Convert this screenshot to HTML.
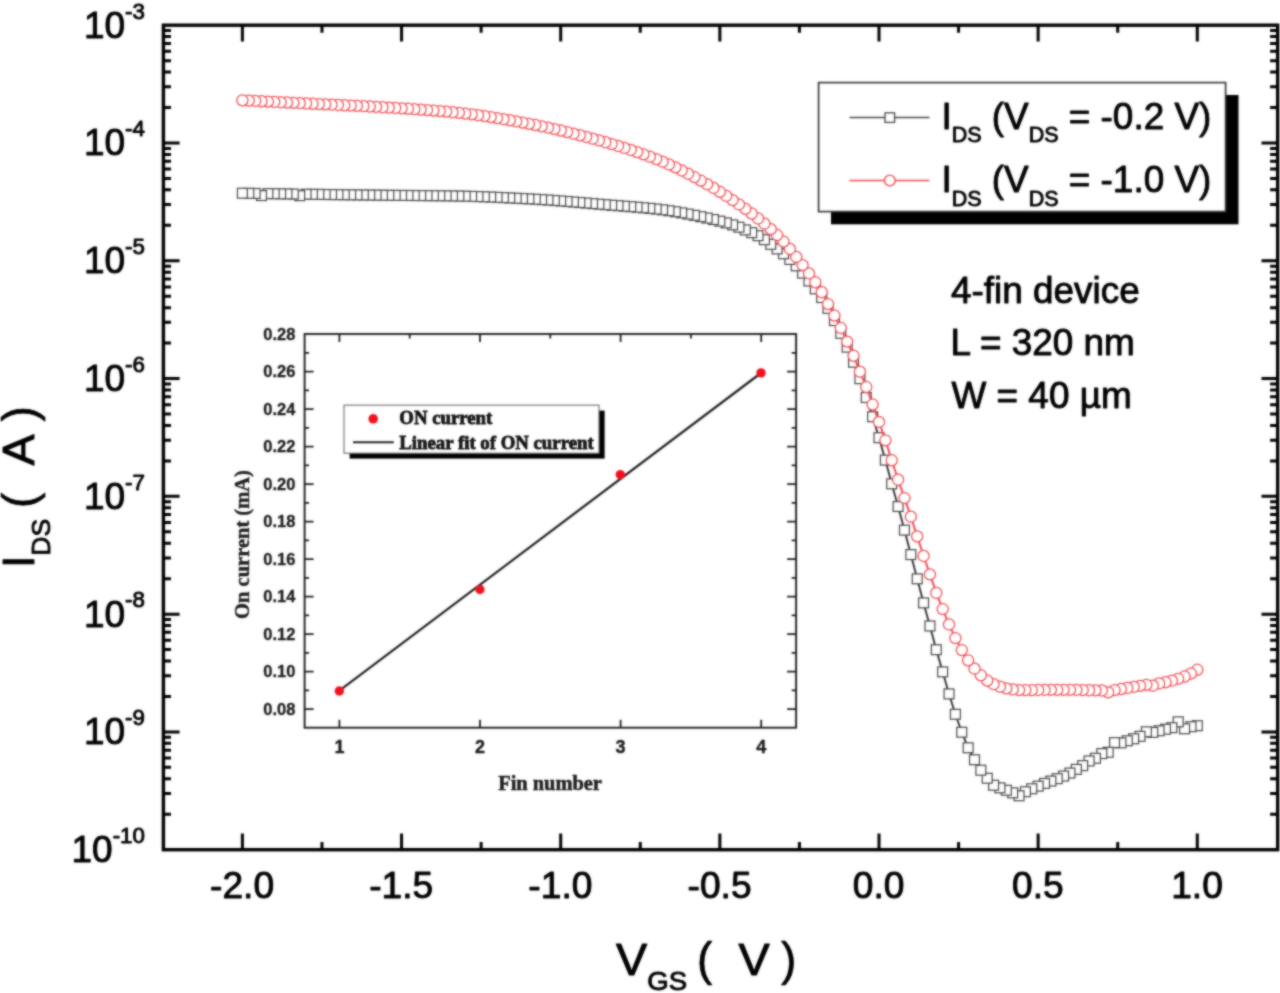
<!DOCTYPE html>
<html lang="en"><head><meta charset="utf-8">
<title>IDS - VGS transfer characteristics</title>
<style>html,body{margin:0;padding:0;background:#fff;}body{width:1280px;height:993px;overflow:hidden;}svg{display:block;}</style>
</head><body>
<svg width="1280" height="993" viewBox="0 0 1280 993">
<defs><filter id="soft" x="0" y="0" width="100%" height="100%" filterUnits="objectBoundingBox" color-interpolation-filters="sRGB"><feGaussianBlur in="SourceGraphic" stdDeviation="0.8" result="b"/><feComposite in="SourceGraphic" in2="b" operator="arithmetic" k1="0" k2="0.3" k3="0.7" k4="0"/></filter></defs>
<rect width="1280" height="993" fill="#fff"/>
<g filter="url(#soft)">
<rect width="1280" height="993" fill="#fff"/>
<rect x="163.4" y="25.2" width="1114.3" height="824.5" fill="none" stroke="#000" stroke-width="3.4"/>
<path d="M242.4 25.2V41.4 M242.4 849.7V833.5 M401.55 25.2V41.4 M401.55 849.7V833.5 M560.7 25.2V41.4 M560.7 849.7V833.5 M719.85 25.2V41.4 M719.85 849.7V833.5 M879 25.2V41.4 M879 849.7V833.5 M1038.15 25.2V41.4 M1038.15 849.7V833.5 M1197.3 25.2V41.4 M1197.3 849.7V833.5 M321.98 25.2V32.8 M321.98 849.7V842.1 M481.12 25.2V32.8 M481.12 849.7V842.1 M640.27 25.2V32.8 M640.27 849.7V842.1 M799.42 25.2V32.8 M799.42 849.7V842.1 M958.58 25.2V32.8 M958.58 849.7V842.1 M1117.73 25.2V32.8 M1117.73 849.7V842.1 M163.4 107.53H171 M1277.7 107.53H1270.1 M163.4 86.79H171 M1277.7 86.79H1270.1 M163.4 72.07H171 M1277.7 72.07H1270.1 M163.4 60.66H171 M1277.7 60.66H1270.1 M163.4 51.33H171 M1277.7 51.33H1270.1 M163.4 43.45H171 M1277.7 43.45H1270.1 M163.4 36.61H171 M1277.7 36.61H1270.1 M163.4 30.59H171 M1277.7 30.59H1270.1 M163.4 142.99H179.6 M1277.7 142.99H1261.5 M163.4 225.31H171 M1277.7 225.31H1270.1 M163.4 204.57H171 M1277.7 204.57H1270.1 M163.4 189.86H171 M1277.7 189.86H1270.1 M163.4 178.44H171 M1277.7 178.44H1270.1 M163.4 169.12H171 M1277.7 169.12H1270.1 M163.4 161.23H171 M1277.7 161.23H1270.1 M163.4 154.4H171 M1277.7 154.4H1270.1 M163.4 148.38H171 M1277.7 148.38H1270.1 M163.4 260.77H179.6 M1277.7 260.77H1261.5 M163.4 343.1H171 M1277.7 343.1H1270.1 M163.4 322.36H171 M1277.7 322.36H1270.1 M163.4 307.64H171 M1277.7 307.64H1270.1 M163.4 296.23H171 M1277.7 296.23H1270.1 M163.4 286.9H171 M1277.7 286.9H1270.1 M163.4 279.02H171 M1277.7 279.02H1270.1 M163.4 272.19H171 M1277.7 272.19H1270.1 M163.4 266.16H171 M1277.7 266.16H1270.1 M163.4 378.56H179.6 M1277.7 378.56H1261.5 M163.4 460.89H171 M1277.7 460.89H1270.1 M163.4 440.14H171 M1277.7 440.14H1270.1 M163.4 425.43H171 M1277.7 425.43H1270.1 M163.4 414.01H171 M1277.7 414.01H1270.1 M163.4 404.69H171 M1277.7 404.69H1270.1 M163.4 396.8H171 M1277.7 396.8H1270.1 M163.4 389.97H171 M1277.7 389.97H1270.1 M163.4 383.95H171 M1277.7 383.95H1270.1 M163.4 496.34H179.6 M1277.7 496.34H1261.5 M163.4 578.67H171 M1277.7 578.67H1270.1 M163.4 557.93H171 M1277.7 557.93H1270.1 M163.4 543.21H171 M1277.7 543.21H1270.1 M163.4 531.8H171 M1277.7 531.8H1270.1 M163.4 522.47H171 M1277.7 522.47H1270.1 M163.4 514.59H171 M1277.7 514.59H1270.1 M163.4 507.76H171 M1277.7 507.76H1270.1 M163.4 501.73H171 M1277.7 501.73H1270.1 M163.4 614.13H179.6 M1277.7 614.13H1261.5 M163.4 696.46H171 M1277.7 696.46H1270.1 M163.4 675.72H171 M1277.7 675.72H1270.1 M163.4 661H171 M1277.7 661H1270.1 M163.4 649.59H171 M1277.7 649.59H1270.1 M163.4 640.26H171 M1277.7 640.26H1270.1 M163.4 632.37H171 M1277.7 632.37H1270.1 M163.4 625.54H171 M1277.7 625.54H1270.1 M163.4 619.52H171 M1277.7 619.52H1270.1 M163.4 731.91H179.6 M1277.7 731.91H1261.5 M163.4 814.24H171 M1277.7 814.24H1270.1 M163.4 793.5H171 M1277.7 793.5H1270.1 M163.4 778.79H171 M1277.7 778.79H1270.1 M163.4 767.37H171 M1277.7 767.37H1270.1 M163.4 758.04H171 M1277.7 758.04H1270.1 M163.4 750.16H171 M1277.7 750.16H1270.1 M163.4 743.33H171 M1277.7 743.33H1270.1 M163.4 737.3H171 M1277.7 737.3H1270.1" stroke="#000" stroke-width="3.0" fill="none"/>
<text transform="translate(144.9,37.7)" font-family='"Liberation Sans", Arial, Helvetica, sans-serif' font-size="37" font-weight="normal" text-anchor="end" fill="#000" stroke="#000" stroke-width="0.9" stroke-linejoin="round">10<tspan font-size="22.3" dy="-19.2">-3</tspan></text>
<text transform="translate(144.9,155.49)" font-family='"Liberation Sans", Arial, Helvetica, sans-serif' font-size="37" font-weight="normal" text-anchor="end" fill="#000" stroke="#000" stroke-width="0.9" stroke-linejoin="round">10<tspan font-size="22.3" dy="-19.2">-4</tspan></text>
<text transform="translate(144.9,273.27)" font-family='"Liberation Sans", Arial, Helvetica, sans-serif' font-size="37" font-weight="normal" text-anchor="end" fill="#000" stroke="#000" stroke-width="0.9" stroke-linejoin="round">10<tspan font-size="22.3" dy="-19.2">-5</tspan></text>
<text transform="translate(144.9,391.06)" font-family='"Liberation Sans", Arial, Helvetica, sans-serif' font-size="37" font-weight="normal" text-anchor="end" fill="#000" stroke="#000" stroke-width="0.9" stroke-linejoin="round">10<tspan font-size="22.3" dy="-19.2">-6</tspan></text>
<text transform="translate(144.9,508.84)" font-family='"Liberation Sans", Arial, Helvetica, sans-serif' font-size="37" font-weight="normal" text-anchor="end" fill="#000" stroke="#000" stroke-width="0.9" stroke-linejoin="round">10<tspan font-size="22.3" dy="-19.2">-7</tspan></text>
<text transform="translate(144.9,626.63)" font-family='"Liberation Sans", Arial, Helvetica, sans-serif' font-size="37" font-weight="normal" text-anchor="end" fill="#000" stroke="#000" stroke-width="0.9" stroke-linejoin="round">10<tspan font-size="22.3" dy="-19.2">-8</tspan></text>
<text transform="translate(144.9,744.41)" font-family='"Liberation Sans", Arial, Helvetica, sans-serif' font-size="37" font-weight="normal" text-anchor="end" fill="#000" stroke="#000" stroke-width="0.9" stroke-linejoin="round">10<tspan font-size="22.3" dy="-19.2">-9</tspan></text>
<text transform="translate(144.9,862.2)" font-family='"Liberation Sans", Arial, Helvetica, sans-serif' font-size="37" font-weight="normal" text-anchor="end" fill="#000" stroke="#000" stroke-width="0.9" stroke-linejoin="round">10<tspan font-size="22.3" dy="-19.2">-10</tspan></text>
<text transform="translate(242.1,897.8)" font-family='"Liberation Sans", Arial, Helvetica, sans-serif' font-size="37.2" font-weight="normal" text-anchor="middle" fill="#000" stroke="#000" stroke-width="0.9" stroke-linejoin="round">-2.0</text>
<text transform="translate(401.25,897.8)" font-family='"Liberation Sans", Arial, Helvetica, sans-serif' font-size="37.2" font-weight="normal" text-anchor="middle" fill="#000" stroke="#000" stroke-width="0.9" stroke-linejoin="round">-1.5</text>
<text transform="translate(560.4,897.8)" font-family='"Liberation Sans", Arial, Helvetica, sans-serif' font-size="37.2" font-weight="normal" text-anchor="middle" fill="#000" stroke="#000" stroke-width="0.9" stroke-linejoin="round">-1.0</text>
<text transform="translate(719.55,897.8)" font-family='"Liberation Sans", Arial, Helvetica, sans-serif' font-size="37.2" font-weight="normal" text-anchor="middle" fill="#000" stroke="#000" stroke-width="0.9" stroke-linejoin="round">-0.5</text>
<text transform="translate(878.7,897.8)" font-family='"Liberation Sans", Arial, Helvetica, sans-serif' font-size="37.2" font-weight="normal" text-anchor="middle" fill="#000" stroke="#000" stroke-width="0.9" stroke-linejoin="round">0.0</text>
<text transform="translate(1037.85,897.8)" font-family='"Liberation Sans", Arial, Helvetica, sans-serif' font-size="37.2" font-weight="normal" text-anchor="middle" fill="#000" stroke="#000" stroke-width="0.9" stroke-linejoin="round">0.5</text>
<text transform="translate(1197,897.8)" font-family='"Liberation Sans", Arial, Helvetica, sans-serif' font-size="37.2" font-weight="normal" text-anchor="middle" fill="#000" stroke="#000" stroke-width="0.9" stroke-linejoin="round">1.0</text>
<text transform="translate(616,975.2) scale(1.040,1.000)" font-family='"Liberation Sans", Arial, Helvetica, sans-serif' font-size="45" font-weight="normal" text-anchor="start" fill="#000" stroke="#000" stroke-width="0.9" stroke-linejoin="round">V<tspan font-size="26.5" dy="14.8">GS</tspan></text>
<text transform="translate(697,974.6)" font-family='"Liberation Sans", Arial, Helvetica, sans-serif' font-size="46" font-weight="normal" text-anchor="start" fill="#000" stroke="#000" stroke-width="0.7" stroke-linejoin="round">(</text>
<text transform="translate(738.5,975.2) scale(1.040,1.000)" font-family='"Liberation Sans", Arial, Helvetica, sans-serif' font-size="45" font-weight="normal" text-anchor="start" fill="#000" stroke="#000" stroke-width="0.9" stroke-linejoin="round">V</text>
<text transform="translate(781,974.6)" font-family='"Liberation Sans", Arial, Helvetica, sans-serif' font-size="46" font-weight="normal" text-anchor="start" fill="#000" stroke="#000" stroke-width="0.7" stroke-linejoin="round">)</text>
<text transform="translate(34,568) rotate(-90)" font-family='"Liberation Sans", Arial, Helvetica, sans-serif' font-size="44.5" font-weight="normal" text-anchor="start" fill="#000" stroke="#000" stroke-width="0.9" stroke-linejoin="round">I<tspan font-size="26.5" dy="16.4">DS</tspan></text>
<text transform="translate(35,508) rotate(-90)" font-family='"Liberation Sans", Arial, Helvetica, sans-serif' font-size="46" font-weight="normal" text-anchor="start" fill="#000" stroke="#000" stroke-width="0.7" stroke-linejoin="round">(</text>
<text transform="translate(34.3,465.5) rotate(-90) scale(1.050,1.000)" font-family='"Liberation Sans", Arial, Helvetica, sans-serif' font-size="44.5" font-weight="normal" text-anchor="start" fill="#000" stroke="#000" stroke-width="0.9" stroke-linejoin="round">A</text>
<text transform="translate(35,421.5) rotate(-90)" font-family='"Liberation Sans", Arial, Helvetica, sans-serif' font-size="46" font-weight="normal" text-anchor="start" fill="#000" stroke="#000" stroke-width="0.7" stroke-linejoin="round">)</text>
<polyline fill="none" stroke="#333" stroke-width="1.9" points="242.4,193.22 248.77,193.33 255.13,193.43 261.5,195.54 267.86,193.64 274.23,193.74 280.6,193.84 286.96,193.94 293.33,194.03 299.69,195.63 306.06,194.22 312.43,194.31 318.79,194.4 325.16,194.49 331.52,194.58 337.89,194.66 344.26,194.75 350.62,194.83 356.99,194.91 363.35,195 369.72,195.07 376.09,195.15 382.45,195.23 388.82,195.3 395.18,195.36 401.55,195.42 407.92,195.47 414.28,195.53 420.65,195.58 427.01,195.64 433.38,195.7 439.75,195.78 446.11,195.86 452.48,195.95 458.84,196.06 465.21,196.2 471.58,196.38 477.94,196.58 484.31,196.81 490.67,197.06 497.04,197.33 503.41,197.62 509.77,197.92 516.14,198.23 522.5,198.56 528.87,198.89 535.24,199.23 541.6,199.62 547.97,200.04 554.33,200.49 560.7,200.97 567.07,201.48 573.43,202 579.8,202.53 586.16,203.07 592.53,203.62 598.9,204.16 605.26,204.69 611.63,205.21 617.99,205.7 624.36,206.19 630.73,206.7 637.09,207.22 643.46,207.78 649.82,208.39 656.19,209.06 662.56,209.82 668.92,210.71 675.29,211.74 681.65,212.87 688.02,214.09 694.39,215.37 700.75,216.7 707.12,218.08 713.48,219.56 719.85,221.16 726.22,222.92 732.58,224.87 738.95,227.2 745.31,229.91 751.68,232.63 758.05,235.68 764.41,239.69 770.78,244.34 777.14,248.9 783.51,253.79 789.88,259.45 796.24,265.83 802.61,273.09 808.97,280.97 815.34,288.85 821.71,297.55 828.07,308.36 834.44,320.57 840.8,333.33 847.17,347.13 853.54,362.21 859.9,378.73 866.27,397.5 872.63,416.74 879,437.68 885.37,460.1 891.73,483.84 898.1,506.52 904.46,530.12 910.83,554.58 917.2,578.84 923.56,602.9 929.93,625.97 936.29,649.7 942.66,671.86 949.03,693.92 955.39,714.28 961.76,732.21 968.12,747.76 974.49,759.76 980.86,770.22 987.22,778.25 993.59,785.25 999.95,787.86 1006.32,790.25 1012.69,792.84 1019.05,795.77 1025.42,791.74 1031.78,788.77 1038.15,786.18 1044.52,783.46 1050.88,781.07 1057.25,778.68 1063.61,776.05 1069.98,773.05 1076.35,769.37 1082.71,765.62 1089.08,760.97 1095.44,758.27 1101.81,753.58 1108.18,752.28 1114.54,742.6 1120.91,742.86 1127.27,740.78 1133.64,738.78 1140.01,736.32 1146.37,731.81 1152.74,732.39 1159.1,730.77 1165.47,729.18 1171.84,727.67 1178.2,721.81 1184.57,728.78 1190.93,726.69 1197.3,725.7"/>
<g fill="#fff" stroke="#454545" stroke-width="1.2"><rect x="1192.35" y="720.75" width="9.9" height="9.9"/><rect x="1185.98" y="721.74" width="9.9" height="9.9"/><rect x="1179.62" y="723.83" width="9.9" height="9.9"/><rect x="1173.25" y="716.86" width="9.9" height="9.9"/><rect x="1166.89" y="722.72" width="9.9" height="9.9"/><rect x="1160.52" y="724.23" width="9.9" height="9.9"/><rect x="1154.15" y="725.82" width="9.9" height="9.9"/><rect x="1147.79" y="727.44" width="9.9" height="9.9"/><rect x="1141.42" y="726.86" width="9.9" height="9.9"/><rect x="1135.06" y="731.37" width="9.9" height="9.9"/><rect x="1128.69" y="733.83" width="9.9" height="9.9"/><rect x="1122.32" y="735.83" width="9.9" height="9.9"/><rect x="1115.96" y="737.91" width="9.9" height="9.9"/><rect x="1109.59" y="737.65" width="9.9" height="9.9"/><rect x="1103.23" y="747.33" width="9.9" height="9.9"/><rect x="1096.86" y="748.63" width="9.9" height="9.9"/><rect x="1090.49" y="753.32" width="9.9" height="9.9"/><rect x="1084.13" y="756.02" width="9.9" height="9.9"/><rect x="1077.76" y="760.67" width="9.9" height="9.9"/><rect x="1071.4" y="764.42" width="9.9" height="9.9"/><rect x="1065.03" y="768.1" width="9.9" height="9.9"/><rect x="1058.66" y="771.1" width="9.9" height="9.9"/><rect x="1052.3" y="773.73" width="9.9" height="9.9"/><rect x="1045.93" y="776.12" width="9.9" height="9.9"/><rect x="1039.57" y="778.51" width="9.9" height="9.9"/><rect x="1033.2" y="781.23" width="9.9" height="9.9"/><rect x="1026.83" y="783.82" width="9.9" height="9.9"/><rect x="1020.47" y="786.79" width="9.9" height="9.9"/><rect x="1014.1" y="790.82" width="9.9" height="9.9"/><rect x="1007.74" y="787.89" width="9.9" height="9.9"/><rect x="1001.37" y="785.3" width="9.9" height="9.9"/><rect x="995" y="782.91" width="9.9" height="9.9"/><rect x="988.64" y="780.3" width="9.9" height="9.9"/><rect x="982.27" y="773.3" width="9.9" height="9.9"/><rect x="975.91" y="765.27" width="9.9" height="9.9"/><rect x="969.54" y="754.81" width="9.9" height="9.9"/><rect x="963.17" y="742.81" width="9.9" height="9.9"/><rect x="956.81" y="727.26" width="9.9" height="9.9"/><rect x="950.44" y="709.33" width="9.9" height="9.9"/><rect x="944.08" y="688.97" width="9.9" height="9.9"/><rect x="937.71" y="666.91" width="9.9" height="9.9"/><rect x="931.34" y="644.75" width="9.9" height="9.9"/><rect x="924.98" y="621.02" width="9.9" height="9.9"/><rect x="918.61" y="597.95" width="9.9" height="9.9"/><rect x="912.25" y="573.89" width="9.9" height="9.9"/><rect x="905.88" y="549.63" width="9.9" height="9.9"/><rect x="899.51" y="525.17" width="9.9" height="9.9"/><rect x="893.15" y="501.57" width="9.9" height="9.9"/><rect x="886.78" y="478.89" width="9.9" height="9.9"/><rect x="880.42" y="455.15" width="9.9" height="9.9"/><rect x="874.05" y="432.73" width="9.9" height="9.9"/><rect x="867.68" y="411.79" width="9.9" height="9.9"/><rect x="861.32" y="392.55" width="9.9" height="9.9"/><rect x="854.95" y="373.78" width="9.9" height="9.9"/><rect x="848.59" y="357.26" width="9.9" height="9.9"/><rect x="842.22" y="342.18" width="9.9" height="9.9"/><rect x="835.85" y="328.38" width="9.9" height="9.9"/><rect x="829.49" y="315.62" width="9.9" height="9.9"/><rect x="823.12" y="303.41" width="9.9" height="9.9"/><rect x="816.76" y="292.6" width="9.9" height="9.9"/><rect x="810.39" y="283.9" width="9.9" height="9.9"/><rect x="804.02" y="276.02" width="9.9" height="9.9"/><rect x="797.66" y="268.14" width="9.9" height="9.9"/><rect x="791.29" y="260.88" width="9.9" height="9.9"/><rect x="784.93" y="254.5" width="9.9" height="9.9"/><rect x="778.56" y="248.84" width="9.9" height="9.9"/><rect x="772.19" y="243.95" width="9.9" height="9.9"/><rect x="765.83" y="239.39" width="9.9" height="9.9"/><rect x="759.46" y="234.74" width="9.9" height="9.9"/><rect x="753.1" y="230.73" width="9.9" height="9.9"/><rect x="746.73" y="227.68" width="9.9" height="9.9"/><rect x="740.36" y="224.96" width="9.9" height="9.9"/><rect x="734" y="222.25" width="9.9" height="9.9"/><rect x="727.63" y="219.92" width="9.9" height="9.9"/><rect x="721.27" y="217.97" width="9.9" height="9.9"/><rect x="714.9" y="216.21" width="9.9" height="9.9"/><rect x="708.53" y="214.61" width="9.9" height="9.9"/><rect x="702.17" y="213.13" width="9.9" height="9.9"/><rect x="695.8" y="211.75" width="9.9" height="9.9"/><rect x="689.44" y="210.42" width="9.9" height="9.9"/><rect x="683.07" y="209.14" width="9.9" height="9.9"/><rect x="676.7" y="207.92" width="9.9" height="9.9"/><rect x="670.34" y="206.79" width="9.9" height="9.9"/><rect x="663.97" y="205.76" width="9.9" height="9.9"/><rect x="657.61" y="204.87" width="9.9" height="9.9"/><rect x="651.24" y="204.11" width="9.9" height="9.9"/><rect x="644.87" y="203.44" width="9.9" height="9.9"/><rect x="638.51" y="202.83" width="9.9" height="9.9"/><rect x="632.14" y="202.27" width="9.9" height="9.9"/><rect x="625.78" y="201.75" width="9.9" height="9.9"/><rect x="619.41" y="201.24" width="9.9" height="9.9"/><rect x="613.04" y="200.75" width="9.9" height="9.9"/><rect x="606.68" y="200.26" width="9.9" height="9.9"/><rect x="600.31" y="199.74" width="9.9" height="9.9"/><rect x="593.95" y="199.21" width="9.9" height="9.9"/><rect x="587.58" y="198.67" width="9.9" height="9.9"/><rect x="581.21" y="198.12" width="9.9" height="9.9"/><rect x="574.85" y="197.58" width="9.9" height="9.9"/><rect x="568.48" y="197.05" width="9.9" height="9.9"/><rect x="562.12" y="196.53" width="9.9" height="9.9"/><rect x="555.75" y="196.02" width="9.9" height="9.9"/><rect x="549.38" y="195.54" width="9.9" height="9.9"/><rect x="543.02" y="195.09" width="9.9" height="9.9"/><rect x="536.65" y="194.67" width="9.9" height="9.9"/><rect x="530.29" y="194.28" width="9.9" height="9.9"/><rect x="523.92" y="193.94" width="9.9" height="9.9"/><rect x="517.55" y="193.61" width="9.9" height="9.9"/><rect x="511.19" y="193.28" width="9.9" height="9.9"/><rect x="504.82" y="192.97" width="9.9" height="9.9"/><rect x="498.46" y="192.67" width="9.9" height="9.9"/><rect x="492.09" y="192.38" width="9.9" height="9.9"/><rect x="485.72" y="192.11" width="9.9" height="9.9"/><rect x="479.36" y="191.86" width="9.9" height="9.9"/><rect x="472.99" y="191.63" width="9.9" height="9.9"/><rect x="466.63" y="191.43" width="9.9" height="9.9"/><rect x="460.26" y="191.25" width="9.9" height="9.9"/><rect x="453.89" y="191.11" width="9.9" height="9.9"/><rect x="447.53" y="191" width="9.9" height="9.9"/><rect x="441.16" y="190.91" width="9.9" height="9.9"/><rect x="434.8" y="190.83" width="9.9" height="9.9"/><rect x="428.43" y="190.75" width="9.9" height="9.9"/><rect x="422.06" y="190.69" width="9.9" height="9.9"/><rect x="415.7" y="190.63" width="9.9" height="9.9"/><rect x="409.33" y="190.58" width="9.9" height="9.9"/><rect x="402.97" y="190.52" width="9.9" height="9.9"/><rect x="396.6" y="190.47" width="9.9" height="9.9"/><rect x="390.23" y="190.41" width="9.9" height="9.9"/><rect x="383.87" y="190.35" width="9.9" height="9.9"/><rect x="377.5" y="190.28" width="9.9" height="9.9"/><rect x="371.14" y="190.2" width="9.9" height="9.9"/><rect x="364.77" y="190.12" width="9.9" height="9.9"/><rect x="358.4" y="190.05" width="9.9" height="9.9"/><rect x="352.04" y="189.96" width="9.9" height="9.9"/><rect x="345.67" y="189.88" width="9.9" height="9.9"/><rect x="339.31" y="189.8" width="9.9" height="9.9"/><rect x="332.94" y="189.71" width="9.9" height="9.9"/><rect x="326.57" y="189.63" width="9.9" height="9.9"/><rect x="320.21" y="189.54" width="9.9" height="9.9"/><rect x="313.84" y="189.45" width="9.9" height="9.9"/><rect x="307.48" y="189.36" width="9.9" height="9.9"/><rect x="301.11" y="189.27" width="9.9" height="9.9"/><rect x="294.74" y="190.68" width="9.9" height="9.9"/><rect x="288.38" y="189.08" width="9.9" height="9.9"/><rect x="282.01" y="188.99" width="9.9" height="9.9"/><rect x="275.65" y="188.89" width="9.9" height="9.9"/><rect x="269.28" y="188.79" width="9.9" height="9.9"/><rect x="262.91" y="188.69" width="9.9" height="9.9"/><rect x="256.55" y="190.59" width="9.9" height="9.9"/><rect x="250.18" y="188.48" width="9.9" height="9.9"/><rect x="243.82" y="188.38" width="9.9" height="9.9"/><rect x="237.45" y="188.27" width="9.9" height="9.9"/></g>
<polyline fill="none" stroke="#f2444a" stroke-width="1.9" points="242.4,100.31 248.77,100.63 255.13,100.95 261.5,101.27 267.86,101.58 274.23,101.9 280.6,102.22 286.96,102.53 293.33,102.85 299.69,103.16 306.06,103.48 312.43,103.79 318.79,104.1 325.16,104.39 331.52,104.69 337.89,104.98 344.26,105.27 350.62,105.57 356.99,105.88 363.35,106.2 369.72,106.53 376.09,106.88 382.45,107.24 388.82,107.61 395.18,107.99 401.55,108.38 407.92,108.78 414.28,109.19 420.65,109.62 427.01,110.08 433.38,110.56 439.75,111.08 446.11,111.63 452.48,112.21 458.84,112.84 465.21,113.55 471.58,114.33 477.94,115.18 484.31,116.1 490.67,117.08 497.04,118.1 503.41,119.18 509.77,120.29 516.14,121.43 522.5,122.6 528.87,123.8 535.24,125.02 541.6,126.3 547.97,127.65 554.33,129.07 560.7,130.54 567.07,132.07 573.43,133.65 579.8,135.28 586.16,136.95 592.53,138.67 598.9,140.43 605.26,142.22 611.63,144.05 617.99,145.95 624.36,147.92 630.73,149.97 637.09,152.1 643.46,154.33 649.82,156.65 656.19,159.09 662.56,161.65 668.92,164.4 675.29,167.35 681.65,170.46 688.02,173.71 694.39,177.08 700.75,180.55 707.12,184.15 713.48,187.92 719.85,191.85 726.22,195.93 732.58,200.12 738.95,204.43 745.31,208.87 751.68,213.53 758.05,218.46 764.41,223.66 770.78,229.14 777.14,235.04 783.51,241.58 789.88,248.95 796.24,256.9 802.61,265.11 808.97,273.43 815.34,282.29 821.71,292.18 828.07,304.09 834.44,315.55 840.8,328 847.17,341.62 853.54,355.78 859.9,371.66 866.27,387.01 872.63,404.52 879,421.94 885.37,440.3 891.73,460.29 898.1,479.7 904.46,498.1 910.83,516.69 917.2,536.37 923.56,555.99 929.93,574.38 936.29,592.93 942.66,609.05 949.03,624.49 955.39,638.08 961.76,650.1 968.12,660.33 974.49,668.67 980.86,675.28 987.22,680.54 993.59,684.17 999.95,686.7 1006.32,688.37 1012.69,689.4 1019.05,690.08 1025.42,690.09 1031.78,690.05 1038.15,689.99 1044.52,689.92 1050.88,689.86 1057.25,689.82 1063.61,689.8 1069.98,689.83 1076.35,689.93 1082.71,690.07 1089.08,690.22 1095.44,690.36 1101.81,690.46 1108.18,692.3 1114.54,690.05 1120.91,689.03 1127.27,687.99 1133.64,686.93 1140.01,685.82 1146.37,684.83 1152.74,685.73 1159.1,683.43 1165.47,682.28 1171.84,680.66 1178.2,678.8 1184.57,676.53 1190.93,673.52 1197.3,669.76"/>
<g fill="#fff" stroke="#f04a50" stroke-width="1.25"><circle cx="1197.3" cy="669.76" r="5.55"/><circle cx="1190.93" cy="673.52" r="5.55"/><circle cx="1184.57" cy="676.53" r="5.55"/><circle cx="1178.2" cy="678.8" r="5.55"/><circle cx="1171.84" cy="680.66" r="5.55"/><circle cx="1165.47" cy="682.28" r="5.55"/><circle cx="1159.1" cy="683.43" r="5.55"/><circle cx="1152.74" cy="685.73" r="5.55"/><circle cx="1146.37" cy="684.83" r="5.55"/><circle cx="1140.01" cy="685.82" r="5.55"/><circle cx="1133.64" cy="686.93" r="5.55"/><circle cx="1127.27" cy="687.99" r="5.55"/><circle cx="1120.91" cy="689.03" r="5.55"/><circle cx="1114.54" cy="690.05" r="5.55"/><circle cx="1108.18" cy="692.3" r="5.55"/><circle cx="1101.81" cy="690.46" r="5.55"/><circle cx="1095.44" cy="690.36" r="5.55"/><circle cx="1089.08" cy="690.22" r="5.55"/><circle cx="1082.71" cy="690.07" r="5.55"/><circle cx="1076.35" cy="689.93" r="5.55"/><circle cx="1069.98" cy="689.83" r="5.55"/><circle cx="1063.61" cy="689.8" r="5.55"/><circle cx="1057.25" cy="689.82" r="5.55"/><circle cx="1050.88" cy="689.86" r="5.55"/><circle cx="1044.52" cy="689.92" r="5.55"/><circle cx="1038.15" cy="689.99" r="5.55"/><circle cx="1031.78" cy="690.05" r="5.55"/><circle cx="1025.42" cy="690.09" r="5.55"/><circle cx="1019.05" cy="690.08" r="5.55"/><circle cx="1012.69" cy="689.4" r="5.55"/><circle cx="1006.32" cy="688.37" r="5.55"/><circle cx="999.95" cy="686.7" r="5.55"/><circle cx="993.59" cy="684.17" r="5.55"/><circle cx="987.22" cy="680.54" r="5.55"/><circle cx="980.86" cy="675.28" r="5.55"/><circle cx="974.49" cy="668.67" r="5.55"/><circle cx="968.12" cy="660.33" r="5.55"/><circle cx="961.76" cy="650.1" r="5.55"/><circle cx="955.39" cy="638.08" r="5.55"/><circle cx="949.03" cy="624.49" r="5.55"/><circle cx="942.66" cy="609.05" r="5.55"/><circle cx="936.29" cy="592.93" r="5.55"/><circle cx="929.93" cy="574.38" r="5.55"/><circle cx="923.56" cy="555.99" r="5.55"/><circle cx="917.2" cy="536.37" r="5.55"/><circle cx="910.83" cy="516.69" r="5.55"/><circle cx="904.46" cy="498.1" r="5.55"/><circle cx="898.1" cy="479.7" r="5.55"/><circle cx="891.73" cy="460.29" r="5.55"/><circle cx="885.37" cy="440.3" r="5.55"/><circle cx="879" cy="421.94" r="5.55"/><circle cx="872.63" cy="404.52" r="5.55"/><circle cx="866.27" cy="387.01" r="5.55"/><circle cx="859.9" cy="371.66" r="5.55"/><circle cx="853.54" cy="355.78" r="5.55"/><circle cx="847.17" cy="341.62" r="5.55"/><circle cx="840.8" cy="328" r="5.55"/><circle cx="834.44" cy="315.55" r="5.55"/><circle cx="828.07" cy="304.09" r="5.55"/><circle cx="821.71" cy="292.18" r="5.55"/><circle cx="815.34" cy="282.29" r="5.55"/><circle cx="808.97" cy="273.43" r="5.55"/><circle cx="802.61" cy="265.11" r="5.55"/><circle cx="796.24" cy="256.9" r="5.55"/><circle cx="789.88" cy="248.95" r="5.55"/><circle cx="783.51" cy="241.58" r="5.55"/><circle cx="777.14" cy="235.04" r="5.55"/><circle cx="770.78" cy="229.14" r="5.55"/><circle cx="764.41" cy="223.66" r="5.55"/><circle cx="758.05" cy="218.46" r="5.55"/><circle cx="751.68" cy="213.53" r="5.55"/><circle cx="745.31" cy="208.87" r="5.55"/><circle cx="738.95" cy="204.43" r="5.55"/><circle cx="732.58" cy="200.12" r="5.55"/><circle cx="726.22" cy="195.93" r="5.55"/><circle cx="719.85" cy="191.85" r="5.55"/><circle cx="713.48" cy="187.92" r="5.55"/><circle cx="707.12" cy="184.15" r="5.55"/><circle cx="700.75" cy="180.55" r="5.55"/><circle cx="694.39" cy="177.08" r="5.55"/><circle cx="688.02" cy="173.71" r="5.55"/><circle cx="681.65" cy="170.46" r="5.55"/><circle cx="675.29" cy="167.35" r="5.55"/><circle cx="668.92" cy="164.4" r="5.55"/><circle cx="662.56" cy="161.65" r="5.55"/><circle cx="656.19" cy="159.09" r="5.55"/><circle cx="649.82" cy="156.65" r="5.55"/><circle cx="643.46" cy="154.33" r="5.55"/><circle cx="637.09" cy="152.1" r="5.55"/><circle cx="630.73" cy="149.97" r="5.55"/><circle cx="624.36" cy="147.92" r="5.55"/><circle cx="617.99" cy="145.95" r="5.55"/><circle cx="611.63" cy="144.05" r="5.55"/><circle cx="605.26" cy="142.22" r="5.55"/><circle cx="598.9" cy="140.43" r="5.55"/><circle cx="592.53" cy="138.67" r="5.55"/><circle cx="586.16" cy="136.95" r="5.55"/><circle cx="579.8" cy="135.28" r="5.55"/><circle cx="573.43" cy="133.65" r="5.55"/><circle cx="567.07" cy="132.07" r="5.55"/><circle cx="560.7" cy="130.54" r="5.55"/><circle cx="554.33" cy="129.07" r="5.55"/><circle cx="547.97" cy="127.65" r="5.55"/><circle cx="541.6" cy="126.3" r="5.55"/><circle cx="535.24" cy="125.02" r="5.55"/><circle cx="528.87" cy="123.8" r="5.55"/><circle cx="522.5" cy="122.6" r="5.55"/><circle cx="516.14" cy="121.43" r="5.55"/><circle cx="509.77" cy="120.29" r="5.55"/><circle cx="503.41" cy="119.18" r="5.55"/><circle cx="497.04" cy="118.1" r="5.55"/><circle cx="490.67" cy="117.08" r="5.55"/><circle cx="484.31" cy="116.1" r="5.55"/><circle cx="477.94" cy="115.18" r="5.55"/><circle cx="471.58" cy="114.33" r="5.55"/><circle cx="465.21" cy="113.55" r="5.55"/><circle cx="458.84" cy="112.84" r="5.55"/><circle cx="452.48" cy="112.21" r="5.55"/><circle cx="446.11" cy="111.63" r="5.55"/><circle cx="439.75" cy="111.08" r="5.55"/><circle cx="433.38" cy="110.56" r="5.55"/><circle cx="427.01" cy="110.08" r="5.55"/><circle cx="420.65" cy="109.62" r="5.55"/><circle cx="414.28" cy="109.19" r="5.55"/><circle cx="407.92" cy="108.78" r="5.55"/><circle cx="401.55" cy="108.38" r="5.55"/><circle cx="395.18" cy="107.99" r="5.55"/><circle cx="388.82" cy="107.61" r="5.55"/><circle cx="382.45" cy="107.24" r="5.55"/><circle cx="376.09" cy="106.88" r="5.55"/><circle cx="369.72" cy="106.53" r="5.55"/><circle cx="363.35" cy="106.2" r="5.55"/><circle cx="356.99" cy="105.88" r="5.55"/><circle cx="350.62" cy="105.57" r="5.55"/><circle cx="344.26" cy="105.27" r="5.55"/><circle cx="337.89" cy="104.98" r="5.55"/><circle cx="331.52" cy="104.69" r="5.55"/><circle cx="325.16" cy="104.39" r="5.55"/><circle cx="318.79" cy="104.1" r="5.55"/><circle cx="312.43" cy="103.79" r="5.55"/><circle cx="306.06" cy="103.48" r="5.55"/><circle cx="299.69" cy="103.16" r="5.55"/><circle cx="293.33" cy="102.85" r="5.55"/><circle cx="286.96" cy="102.53" r="5.55"/><circle cx="280.6" cy="102.22" r="5.55"/><circle cx="274.23" cy="101.9" r="5.55"/><circle cx="267.86" cy="101.58" r="5.55"/><circle cx="261.5" cy="101.27" r="5.55"/><circle cx="255.13" cy="100.95" r="5.55"/><circle cx="248.77" cy="100.63" r="5.55"/><circle cx="242.4" cy="100.31" r="5.55"/></g>
<rect x="831" y="95" width="407.5" height="129.3" fill="#000"/>
<rect x="818.6" y="82.6" width="407" height="129" fill="#fff" stroke="#3a3a3a" stroke-width="1.7"/>
<path d="M849.5 117.6H929.5" stroke="#454545" stroke-width="1.5"/>
<rect x="885" y="112.8" width="9.6" height="9.6" fill="#fff" stroke="#454545" stroke-width="1.3"/>
<path d="M849.5 180.5H929.5" stroke="#f04a50" stroke-width="1.5"/>
<circle cx="889.8" cy="180.5" r="5.4" fill="#fff" stroke="#f04a50" stroke-width="1.4"/>
<text transform="translate(941.4,128.5)" font-family='"Liberation Sans", Arial, Helvetica, sans-serif' font-size="36.9" font-weight="normal" text-anchor="start" fill="#000" stroke="#000" stroke-width="0.85" stroke-linejoin="round">I<tspan font-size="21.5" dy="13.8">DS</tspan><tspan dy="-13.8"> (V</tspan><tspan font-size="21.5" dy="13.8">DS</tspan><tspan dy="-13.8"> = -0.2 V)</tspan></text>
<text transform="translate(941.4,191.7)" font-family='"Liberation Sans", Arial, Helvetica, sans-serif' font-size="36.9" font-weight="normal" text-anchor="start" fill="#000" stroke="#000" stroke-width="0.85" stroke-linejoin="round">I<tspan font-size="21.5" dy="13.8">DS</tspan><tspan dy="-13.8"> (V</tspan><tspan font-size="21.5" dy="13.8">DS</tspan><tspan dy="-13.8"> = -1.0 V)</tspan></text>
<text transform="translate(951,302.5)" font-family='"Liberation Sans", Arial, Helvetica, sans-serif' font-size="36.9" font-weight="normal" text-anchor="start" fill="#000" stroke="#000" stroke-width="0.9" stroke-linejoin="round">4-fin device</text>
<text transform="translate(950.5,355)" font-family='"Liberation Sans", Arial, Helvetica, sans-serif' font-size="36.9" font-weight="normal" text-anchor="start" fill="#000" stroke="#000" stroke-width="0.9" stroke-linejoin="round">L = 320 nm</text>
<text transform="translate(951.5,408)" font-family='"Liberation Sans", Arial, Helvetica, sans-serif' font-size="36.9" font-weight="normal" text-anchor="start" fill="#000" stroke="#000" stroke-width="0.9" stroke-linejoin="round">W = 40 µm</text>
<rect x="304.6" y="334" width="491.5" height="393.7" fill="#fff" stroke="#1c1c1c" stroke-width="1.9"/>
<path d="M339.4 334V342 M339.4 727.7V719.7 M480 334V342 M480 727.7V719.7 M620.6 334V342 M620.6 727.7V719.7 M761.2 334V342 M761.2 727.7V719.7 M409.7 334V338.5 M550.3 334V338.5 M690.9 334V338.5 M304.6 352.95H309.1 M796.1 352.95H791.6 M304.6 371.7H313.6 M796.1 371.7H787.1 M304.6 390.45H309.1 M796.1 390.45H791.6 M304.6 409.2H313.6 M796.1 409.2H787.1 M304.6 427.95H309.1 M796.1 427.95H791.6 M304.6 446.7H313.6 M796.1 446.7H787.1 M304.6 465.45H309.1 M796.1 465.45H791.6 M304.6 484.2H313.6 M796.1 484.2H787.1 M304.6 502.95H309.1 M796.1 502.95H791.6 M304.6 521.7H313.6 M796.1 521.7H787.1 M304.6 540.45H309.1 M796.1 540.45H791.6 M304.6 559.2H313.6 M796.1 559.2H787.1 M304.6 577.95H309.1 M796.1 577.95H791.6 M304.6 596.7H313.6 M796.1 596.7H787.1 M304.6 615.45H309.1 M796.1 615.45H791.6 M304.6 634.2H313.6 M796.1 634.2H787.1 M304.6 652.95H309.1 M796.1 652.95H791.6 M304.6 671.7H313.6 M796.1 671.7H787.1 M304.6 690.45H309.1 M796.1 690.45H791.6 M304.6 709.2H313.6 M796.1 709.2H787.1" stroke="#1c1c1c" stroke-width="1.8" fill="none"/>
<text transform="translate(295.3,339.5) scale(1.030,1.000)" font-family='"Liberation Sans", Arial, Helvetica, sans-serif' font-size="16" font-weight="bold" text-anchor="end" fill="#1a1a1a" stroke="#1a1a1a" stroke-width="0.3" stroke-linejoin="round">0.28</text>
<text transform="translate(295.3,377) scale(1.030,1.000)" font-family='"Liberation Sans", Arial, Helvetica, sans-serif' font-size="16" font-weight="bold" text-anchor="end" fill="#1a1a1a" stroke="#1a1a1a" stroke-width="0.3" stroke-linejoin="round">0.26</text>
<text transform="translate(295.3,414.5) scale(1.030,1.000)" font-family='"Liberation Sans", Arial, Helvetica, sans-serif' font-size="16" font-weight="bold" text-anchor="end" fill="#1a1a1a" stroke="#1a1a1a" stroke-width="0.3" stroke-linejoin="round">0.24</text>
<text transform="translate(295.3,452) scale(1.030,1.000)" font-family='"Liberation Sans", Arial, Helvetica, sans-serif' font-size="16" font-weight="bold" text-anchor="end" fill="#1a1a1a" stroke="#1a1a1a" stroke-width="0.3" stroke-linejoin="round">0.22</text>
<text transform="translate(295.3,489.5) scale(1.030,1.000)" font-family='"Liberation Sans", Arial, Helvetica, sans-serif' font-size="16" font-weight="bold" text-anchor="end" fill="#1a1a1a" stroke="#1a1a1a" stroke-width="0.3" stroke-linejoin="round">0.20</text>
<text transform="translate(295.3,527) scale(1.030,1.000)" font-family='"Liberation Sans", Arial, Helvetica, sans-serif' font-size="16" font-weight="bold" text-anchor="end" fill="#1a1a1a" stroke="#1a1a1a" stroke-width="0.3" stroke-linejoin="round">0.18</text>
<text transform="translate(295.3,564.5) scale(1.030,1.000)" font-family='"Liberation Sans", Arial, Helvetica, sans-serif' font-size="16" font-weight="bold" text-anchor="end" fill="#1a1a1a" stroke="#1a1a1a" stroke-width="0.3" stroke-linejoin="round">0.16</text>
<text transform="translate(295.3,602) scale(1.030,1.000)" font-family='"Liberation Sans", Arial, Helvetica, sans-serif' font-size="16" font-weight="bold" text-anchor="end" fill="#1a1a1a" stroke="#1a1a1a" stroke-width="0.3" stroke-linejoin="round">0.14</text>
<text transform="translate(295.3,639.5) scale(1.030,1.000)" font-family='"Liberation Sans", Arial, Helvetica, sans-serif' font-size="16" font-weight="bold" text-anchor="end" fill="#1a1a1a" stroke="#1a1a1a" stroke-width="0.3" stroke-linejoin="round">0.12</text>
<text transform="translate(295.3,677) scale(1.030,1.000)" font-family='"Liberation Sans", Arial, Helvetica, sans-serif' font-size="16" font-weight="bold" text-anchor="end" fill="#1a1a1a" stroke="#1a1a1a" stroke-width="0.3" stroke-linejoin="round">0.10</text>
<text transform="translate(295.3,714.5) scale(1.030,1.000)" font-family='"Liberation Sans", Arial, Helvetica, sans-serif' font-size="16" font-weight="bold" text-anchor="end" fill="#1a1a1a" stroke="#1a1a1a" stroke-width="0.3" stroke-linejoin="round">0.08</text>
<text transform="translate(339.4,752.8)" font-family='"Liberation Sans", Arial, Helvetica, sans-serif' font-size="18" font-weight="bold" text-anchor="middle" fill="#1a1a1a" stroke="#1a1a1a" stroke-width="0.4" stroke-linejoin="round">1</text>
<text transform="translate(480,752.8)" font-family='"Liberation Sans", Arial, Helvetica, sans-serif' font-size="18" font-weight="bold" text-anchor="middle" fill="#1a1a1a" stroke="#1a1a1a" stroke-width="0.4" stroke-linejoin="round">2</text>
<text transform="translate(620.6,752.8)" font-family='"Liberation Sans", Arial, Helvetica, sans-serif' font-size="18" font-weight="bold" text-anchor="middle" fill="#1a1a1a" stroke="#1a1a1a" stroke-width="0.4" stroke-linejoin="round">3</text>
<text transform="translate(761.2,752.8)" font-family='"Liberation Sans", Arial, Helvetica, sans-serif' font-size="18" font-weight="bold" text-anchor="middle" fill="#1a1a1a" stroke="#1a1a1a" stroke-width="0.4" stroke-linejoin="round">4</text>
<text transform="translate(550,790) scale(1.020,1.000)" font-family='"Liberation Serif", "Times New Roman", serif' font-size="20" font-weight="bold" text-anchor="middle" fill="#1a1a1a" stroke="#1a1a1a" stroke-width="0.5" stroke-linejoin="round">Fin number</text>
<text transform="translate(248.5,544.5) rotate(-90)" font-family='"Liberation Serif", "Times New Roman", serif' font-size="20.5" font-weight="bold" text-anchor="middle" fill="#1a1a1a" stroke="#1a1a1a" stroke-width="0.4" stroke-linejoin="round">On current (mA)</text>
<path d="M339.4 690.6L761 373" stroke="#222" stroke-width="2.3" fill="none"/>
<circle cx="339.3" cy="691" r="4.7" fill="#f2101c"/>
<circle cx="479.9" cy="589.5" r="4.7" fill="#f2101c"/>
<circle cx="620.3" cy="474.6" r="4.7" fill="#f2101c"/>
<circle cx="761" cy="372.9" r="4.7" fill="#f2101c"/>
<rect x="349.6" y="410.6" width="255" height="48" fill="#000"/>
<rect x="344" y="405.2" width="255" height="48" fill="#fff" stroke="#777" stroke-width="1.2"/>
<circle cx="373.2" cy="418.8" r="4.8" fill="#f2101c"/>
<path d="M353 442.3H393.8" stroke="#222" stroke-width="2.1"/>
<text transform="translate(399.3,424)" font-family='"Liberation Serif", "Times New Roman", serif' font-size="18.8" font-weight="bold" text-anchor="start" fill="#111" stroke="#111" stroke-width="0.8" stroke-linejoin="round">ON current</text>
<text transform="translate(399.3,448.6)" font-family='"Liberation Serif", "Times New Roman", serif' font-size="18.8" font-weight="bold" text-anchor="start" fill="#111" stroke="#111" stroke-width="0.8" stroke-linejoin="round">Linear fit of ON current</text>
</g>
</svg>
</body></html>
